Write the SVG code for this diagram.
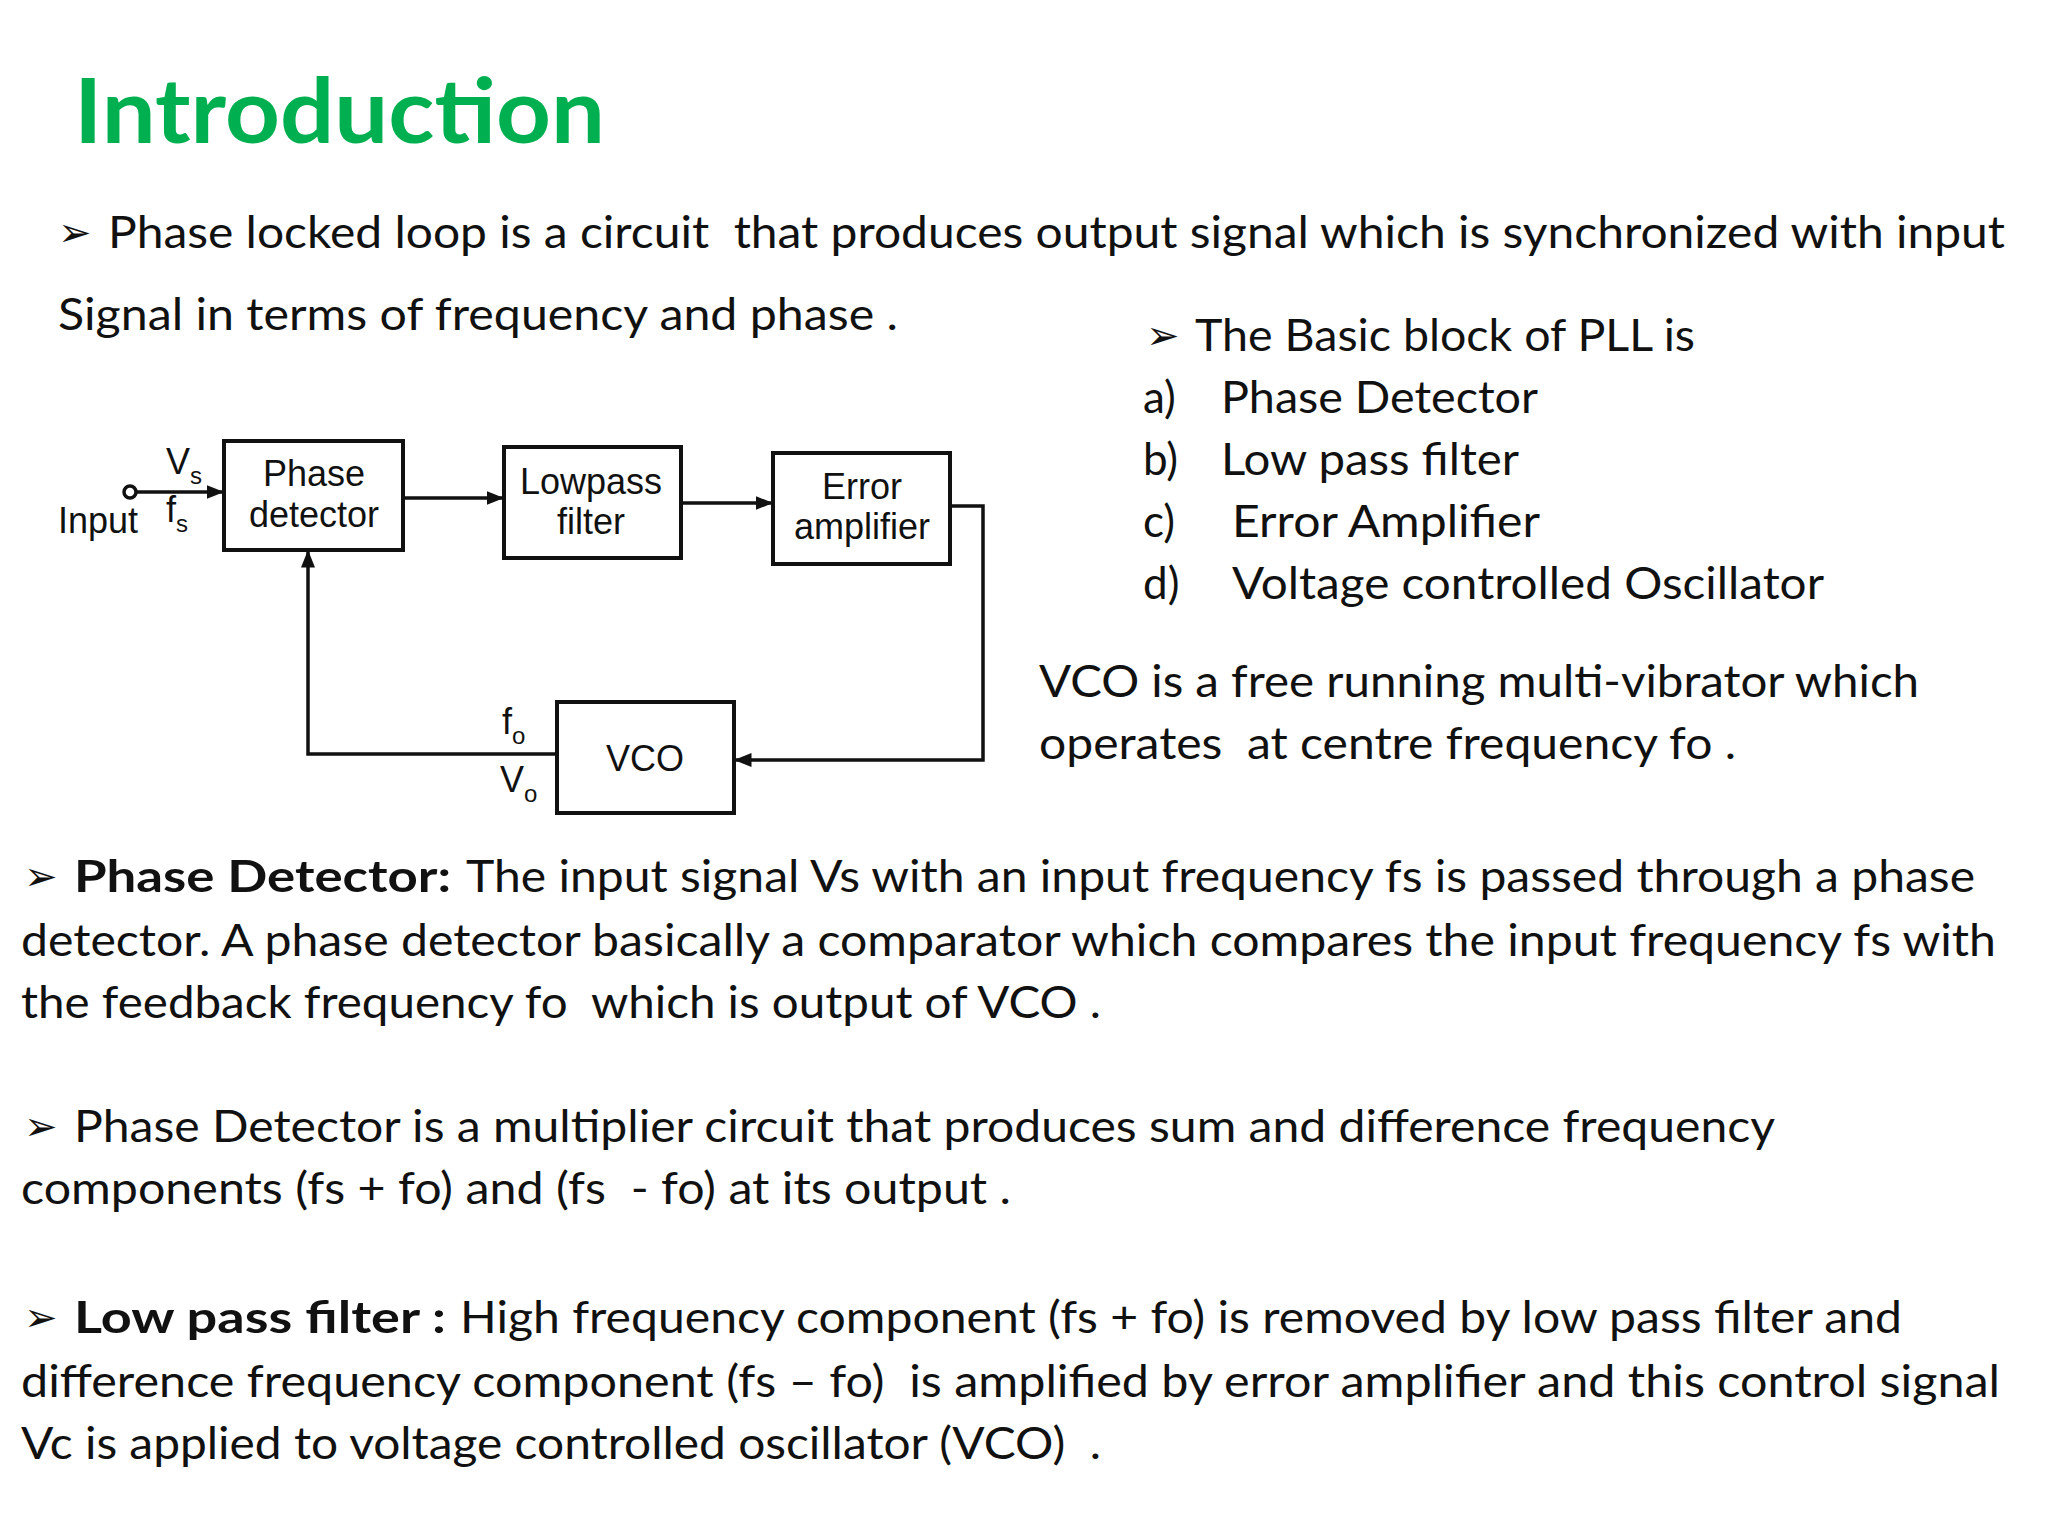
<svg xmlns="http://www.w3.org/2000/svg" width="2048" height="1536" viewBox="0 0 2048 1536">
<style>
.t{font-family:Lato,"Open Sans",sans-serif;font-size:44px;fill:#111;white-space:pre}
.b{font-weight:bold}
.ar{font-family:"DejaVu Sans",sans-serif;font-size:40px;fill:#111}
.h{font-family:Lato,"Open Sans",sans-serif;font-size:90px;font-weight:bold;fill:#00B050}
.d{font-family:"Liberation Sans",Arial,sans-serif;font-size:36px;fill:#111;text-anchor:middle}
.ds{font-family:"Liberation Sans",Arial,sans-serif;font-size:36px;fill:#111}
.sub{font-size:24px}
.box{fill:#fff;stroke:#111;stroke-width:4}
.ln{fill:none;stroke:#111;stroke-width:3.5}
</style>
<defs>
<marker id="ah" viewBox="0 0 10 10" refX="10" refY="5" markerWidth="5" markerHeight="5" orient="auto"><path d="M0,1 L10,5 L0,9 z" fill="#111"/></marker>
</defs>
<rect width="2048" height="1536" fill="#fff"/>
<text class="h" x="74" y="143" textLength="531" lengthAdjust="spacingAndGlyphs">Introduction</text>
<g id="text">
<text class="ar" x="58" y="246">➢</text>
<text class="t" x="108" y="248" textLength="1897" lengthAdjust="spacingAndGlyphs">Phase locked loop is a circuit  that produces output signal which is synchronized with input</text>
<text class="t" x="58" y="330" textLength="840" lengthAdjust="spacingAndGlyphs">Signal in terms of frequency and phase .</text>
<text class="ar" x="1146" y="349">➢</text>
<text class="t" x="1195" y="351" textLength="500" lengthAdjust="spacingAndGlyphs">The Basic block of PLL is</text>
<text class="t" x="1143" y="413">a)</text><text class="t" x="1221" y="413" textLength="317" lengthAdjust="spacingAndGlyphs">Phase Detector</text>
<text class="t" x="1143" y="475">b)</text><text class="t" x="1221" y="475" textLength="298" lengthAdjust="spacingAndGlyphs">Low pass filter</text>
<text class="t" x="1143" y="537">c)</text><text class="t" x="1232" y="537" textLength="308" lengthAdjust="spacingAndGlyphs">Error Amplifier</text>
<text class="t" x="1143" y="599">d)</text><text class="t" x="1232" y="599" textLength="592" lengthAdjust="spacingAndGlyphs">Voltage controlled Oscillator</text>
<text class="t" x="1039" y="697" textLength="880" lengthAdjust="spacingAndGlyphs">VCO is a free running multi-vibrator which</text>
<text class="t" x="1039" y="759" textLength="697" lengthAdjust="spacingAndGlyphs">operates  at centre frequency fo .</text>
<text class="ar" x="24" y="890">➢</text>
<text class="t b" x="74" y="892" textLength="377" lengthAdjust="spacingAndGlyphs">Phase Detector:</text>
<text class="t" x="466" y="892" textLength="1509" lengthAdjust="spacingAndGlyphs">The input signal Vs with an input frequency fs is passed through a phase</text>
<text class="t" x="21" y="956" textLength="1975" lengthAdjust="spacingAndGlyphs">detector. A phase detector basically a comparator which compares the input frequency fs with</text>
<text class="t" x="21" y="1018" textLength="1080" lengthAdjust="spacingAndGlyphs">the feedback frequency fo  which is output of VCO .</text>
<text class="ar" x="24" y="1140">➢</text>
<text class="t" x="74" y="1142" textLength="1701" lengthAdjust="spacingAndGlyphs">Phase Detector is a multiplier circuit that produces sum and difference frequency</text>
<text class="t" x="21" y="1204" textLength="990" lengthAdjust="spacingAndGlyphs">components (fs + fo) and (fs  - fo) at its output .</text>
<text class="ar" x="24" y="1331">➢</text>
<text class="t b" x="74" y="1333" textLength="372" lengthAdjust="spacingAndGlyphs">Low pass filter :</text>
<text class="t" x="460" y="1333" textLength="1442" lengthAdjust="spacingAndGlyphs">High frequency component (fs + fo) is removed by low pass filter and</text>
<text class="t" x="21" y="1397" textLength="1979" lengthAdjust="spacingAndGlyphs">difference frequency component (fs – fo)  is amplified by error amplifier and this control signal</text>
<text class="t" x="21" y="1459" textLength="1080" lengthAdjust="spacingAndGlyphs">Vc is applied to voltage controlled oscillator (VCO)  .</text>
</g>
<g id="connectors">
<circle cx="130" cy="492" r="6" fill="#fff" stroke="#111" stroke-width="3.5"/>
<line class="ln" x1="136" y1="492" x2="224" y2="492" marker-end="url(#ah)"/>
<line class="ln" x1="403" y1="498" x2="504" y2="498" marker-end="url(#ah)"/>
<line class="ln" x1="681" y1="503" x2="773" y2="503" marker-end="url(#ah)"/>
<polyline class="ln" points="950,506 983,506 983,760 734,760" marker-end="url(#ah)"/>
<polyline class="ln" points="557,754 308,754 308,550" marker-end="url(#ah)"/>
</g>
<g id="phase-detector"><rect class="box" x="224" y="441" width="179" height="109"/><text class="d" x="314" y="486">Phase</text><text class="d" x="314" y="527">detector</text></g>
<g id="lowpass"><rect class="box" x="504" y="447" width="177" height="111"/><text class="d" x="591" y="494">Lowpass</text><text class="d" x="591" y="534">filter</text></g>
<g id="error-amp"><rect class="box" x="773" y="453" width="177" height="111"/><text class="d" x="862" y="499">Error</text><text class="d" x="862" y="539">amplifier</text></g>
<g id="vco"><rect class="box" x="557" y="702" width="177" height="111"/><text class="d" x="645" y="771">VCO</text></g>
<g id="labels">
<text class="ds" x="58" y="533">Input</text>
<text class="ds" x="166" y="474">V<tspan class="sub" dy="10">s</tspan></text>
<text class="ds" x="166" y="522">f<tspan class="sub" dy="10">s</tspan></text>
<text class="ds" x="502" y="734">f<tspan class="sub" dy="10">o</tspan></text>
<text class="ds" x="500" y="792">V<tspan class="sub" dy="10">o</tspan></text>
</g>
</svg>
